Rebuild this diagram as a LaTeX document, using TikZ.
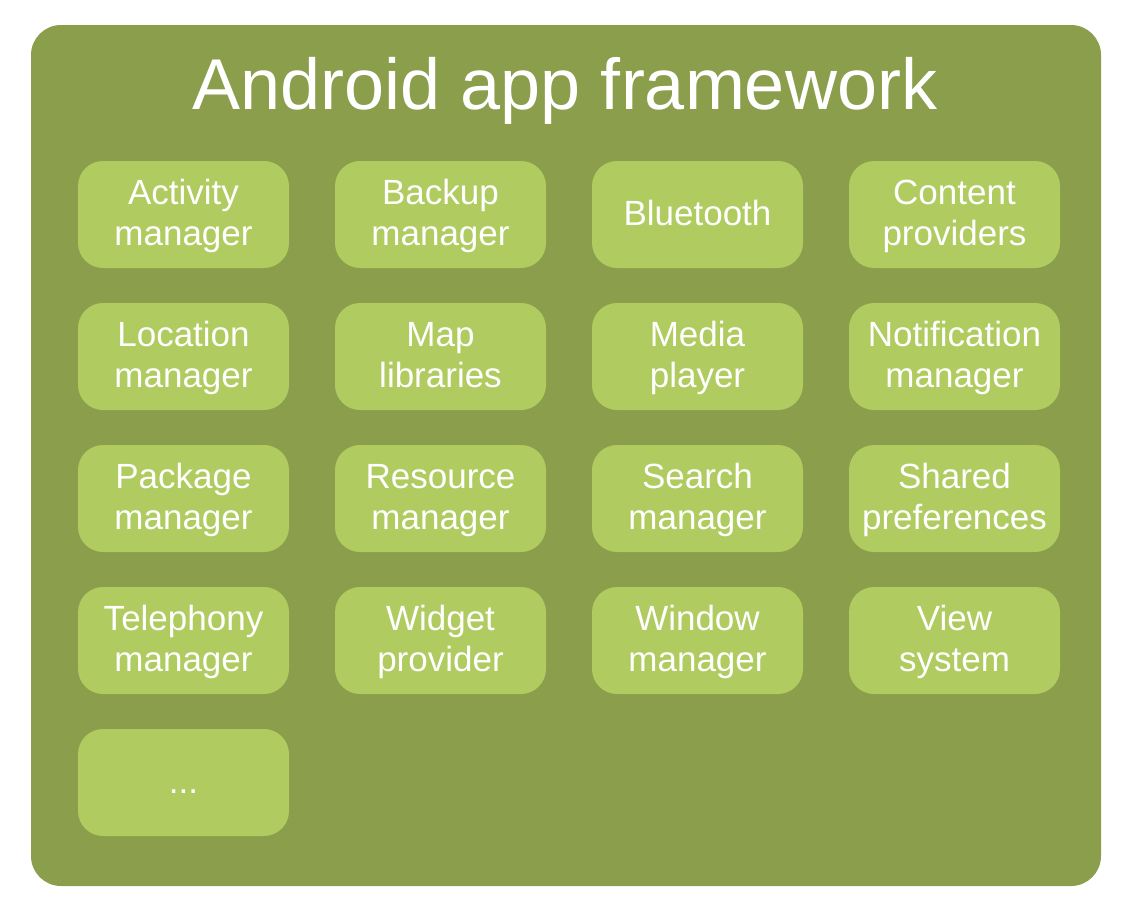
\documentclass[tikz,border=0pt]{standalone}
\usepackage{fontspec}
\setmainfont{Liberation Sans}
\definecolor{outergreen}{HTML}{8A9E4B}
\definecolor{innergreen}{HTML}{B0CB5F}
\newcommand\lstrut{\rule[-10pt]{0pt}{41pt}}
\begin{document}
\begin{tikzpicture}[x=1pt,y=-1pt,
  comp/.style={fill=innergreen, draw=none, rounded corners=25pt,
    minimum width=211pt, minimum height=107pt, inner sep=0pt,
    align=center, text=white, font=\fontsize{35}{41}\selectfont},
  frame/.style={fill=outergreen, draw=none, rounded corners=30pt}]
\useasboundingbox (0,0) rectangle (1130,911);
\fill[frame] (31,25) rectangle (1101,886);
\node[text=white, font=\fontsize{72}{80}\selectfont, anchor=base] (title) at (565,109) {Android app framework};
\node[comp] (activity) at (183.5,214.5) {\lstrut Activity\\\lstrut manager};
\node[comp] (backup) at (440.5,214.5) {\lstrut Backup\\\lstrut manager};
\node[comp] (bluetooth) at (697.5,214.5) {\lstrut Bluetooth};
\node[comp] (content) at (954.5,214.5) {\lstrut Content\\\lstrut providers};
\node[comp] (location) at (183.5,356.5) {\lstrut Location\\\lstrut manager};
\node[comp] (map) at (440.5,356.5) {\lstrut Map\\\lstrut libraries};
\node[comp] (media) at (697.5,356.5) {\lstrut Media\\\lstrut player};
\node[comp] (notification) at (954.5,356.5) {\lstrut Notification\\\lstrut manager};
\node[comp] (package) at (183.5,498.5) {\lstrut Package\\\lstrut manager};
\node[comp] (resource) at (440.5,498.5) {\lstrut Resource\\\lstrut manager};
\node[comp] (search) at (697.5,498.5) {\lstrut Search\\\lstrut manager};
\node[comp] (shared) at (954.5,498.5) {\lstrut Shared\\\lstrut preferences};
\node[comp] (telephony) at (183.5,640.5) {\lstrut Telephony\\\lstrut manager};
\node[comp] (widget) at (440.5,640.5) {\lstrut Widget\\\lstrut provider};
\node[comp] (window) at (697.5,640.5) {\lstrut Window\\\lstrut manager};
\node[comp] (view) at (954.5,640.5) {\lstrut View\\\lstrut system};
\node[comp] (more) at (183.5,782.5) {\lstrut ...};
\end{tikzpicture}
\end{document}
